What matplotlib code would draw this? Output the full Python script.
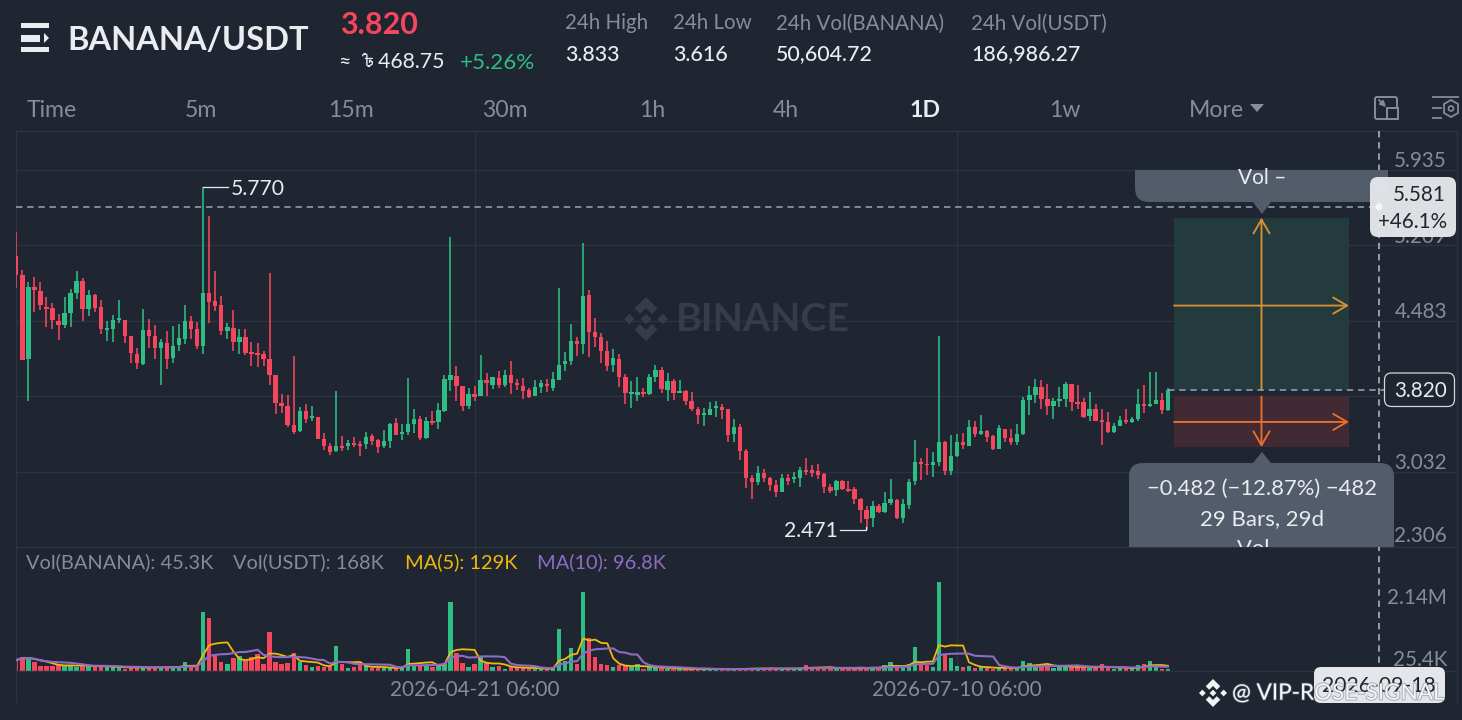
import matplotlib
matplotlib.use("Agg")
import matplotlib.pyplot as plt
import matplotlib.patheffects as pe
from matplotlib import font_manager as fm
from matplotlib.ft2font import FT2Font
from matplotlib.patches import FancyBboxPatch, Polygon, Rectangle
from matplotlib.transforms import ScaledTranslation
import numpy as np
import pandas as pd

opens = [5.107,4.921,4.119,4.809,4.770,4.620,4.607,4.479,4.447,4.559,
 4.748,4.867,4.597,4.729,4.620,4.395,4.408,4.488,4.488,4.337,
 4.167,4.068,4.398,4.337,4.219,4.270,4.129,4.248,4.309,4.479,
 4.402,4.241,4.748,4.671,4.639,4.389,4.418,4.280,4.328,4.180,
 4.171,4.161,4.119,3.959,3.689,3.661,3.478,3.426,3.619,3.548,
 3.561,3.349,3.282,3.227,3.282,3.279,3.311,3.298,3.298,3.372,
 3.333,3.279,3.330,3.500,3.391,3.417,3.491,3.539,3.353,3.520,
 3.510,3.613,3.914,3.953,3.860,3.667,3.779,3.760,3.911,3.866,
 3.930,3.866,3.962,3.882,3.860,3.821,3.760,3.850,3.872,3.840,
 3.917,4.068,4.097,4.289,4.261,4.729,4.379,4.328,4.190,4.059,
 4.119,3.940,3.779,3.770,3.799,3.779,3.943,4.010,3.818,3.901,
 3.789,3.808,3.715,3.635,3.577,3.581,3.641,3.654,3.635,3.391,
 3.462,3.234,2.968,2.932,3.019,2.974,2.904,2.839,2.974,2.961,
 2.967,3.047,3.047,3.035,3.009,2.884,2.855,2.942,2.865,2.868,
 2.768,2.662,2.582,2.701,2.640,2.730,2.759,2.585,2.714,2.938,
 3.124,3.105,3.092,3.128,3.320,3.041,3.179,3.314,3.282,3.461,
 3.397,3.420,3.375,3.253,3.442,3.355,3.314,3.391,3.721,3.772,
 3.846,3.731,3.660,3.711,3.731,3.878,3.705,3.702,3.567,3.634,
 3.529,3.513,3.413,3.471,3.529,3.506,3.535,3.679,3.663,3.683,3.721,3.625]
closes = [4.921,4.103,4.809,4.780,4.633,4.600,4.488,4.447,4.559,4.748,
 4.867,4.597,4.729,4.607,4.402,4.418,4.488,4.507,4.337,4.171,
 4.078,4.395,4.337,4.219,4.280,4.116,4.241,4.318,4.479,4.408,
 4.238,4.748,4.668,4.626,4.386,4.427,4.280,4.328,4.171,4.161,
 4.151,4.116,3.959,3.689,3.661,3.478,3.417,3.619,3.539,3.568,
 3.349,3.282,3.218,3.279,3.263,3.308,3.292,3.282,3.369,3.330,
 3.269,3.330,3.491,3.388,3.414,3.491,3.539,3.353,3.520,3.504,
 3.622,3.924,3.962,3.856,3.667,3.779,3.751,3.911,3.882,3.940,
 3.866,3.962,3.882,3.863,3.808,3.751,3.847,3.882,3.853,3.921,
 4.059,4.097,4.289,4.261,4.719,4.379,4.328,4.190,4.049,4.129,
 3.940,3.789,3.799,3.799,3.779,3.943,4.010,3.828,3.901,3.789,
 3.805,3.715,3.638,3.577,3.597,3.635,3.664,3.629,3.385,3.462,
 3.234,2.968,2.932,3.019,2.968,2.904,2.839,2.971,2.945,2.981,
 3.044,3.031,3.022,3.003,2.884,2.849,2.942,2.861,2.842,2.768,
 2.662,2.576,2.701,2.643,2.730,2.768,2.585,2.717,2.935,3.128,
 3.105,3.092,3.124,3.320,3.041,3.179,3.314,3.285,3.458,3.397,
 3.420,3.368,3.250,3.452,3.355,3.320,3.394,3.721,3.772,3.849,
 3.734,3.663,3.711,3.731,3.878,3.705,3.686,3.558,3.634,3.522,
 3.513,3.413,3.471,3.529,3.509,3.535,3.679,3.663,3.679,3.721,3.625,3.820]
highs = [5.338,4.973,4.857,4.908,4.860,4.710,4.652,4.549,4.710,4.787,
 4.960,4.899,4.777,4.738,4.681,4.479,4.540,4.681,4.488,4.337,
 4.222,4.597,4.501,4.440,4.309,4.389,4.430,4.450,4.639,4.530,
 4.469,5.770,5.489,4.960,4.719,4.459,4.588,4.408,4.402,4.280,
 4.267,4.190,4.940,3.959,3.779,3.770,4.148,3.651,3.680,3.661,
 3.561,3.401,3.308,3.808,3.372,3.340,3.362,3.330,3.410,3.391,
 3.343,3.433,3.500,3.548,3.491,3.930,3.632,3.571,3.561,3.613,
 3.690,3.962,5.287,4.049,3.860,3.840,3.860,4.152,3.978,3.940,
 3.998,4.010,4.100,3.921,3.930,3.837,3.911,3.911,3.921,3.988,
 4.796,4.180,4.450,4.328,5.229,4.777,4.508,4.366,4.289,4.209,
 4.161,3.969,3.901,3.940,3.840,3.969,4.062,4.039,3.978,3.921,
 3.914,3.815,3.799,3.654,3.645,3.706,3.709,3.683,3.635,3.536,
 3.491,3.247,2.997,3.086,3.058,2.981,2.952,3.006,3.010,3.029,
 3.076,3.163,3.092,3.102,3.022,2.913,2.951,2.951,2.945,2.881,
 2.778,2.704,2.752,2.720,2.839,2.958,2.765,2.765,2.964,3.333,
 3.160,3.262,3.217,4.337,3.326,3.381,3.391,3.400,3.529,3.516,
 3.574,3.429,3.384,3.484,3.442,3.442,3.487,3.747,3.856,3.920,
 3.910,3.875,3.744,3.843,3.894,3.878,3.865,3.744,3.798,3.683,
 3.638,3.606,3.503,3.564,3.634,3.557,3.830,3.869,3.991,3.991,3.792,3.840]
lows = [4.803,4.103,3.712,4.572,4.588,4.427,4.408,4.299,4.418,4.427,
 4.697,4.479,4.530,4.568,4.360,4.289,4.280,4.466,4.270,4.078,
 4.020,4.058,4.219,4.116,3.869,4.020,4.078,4.190,4.260,4.309,
 4.209,4.167,4.459,4.578,4.350,4.309,4.196,4.167,4.155,4.052,
 4.039,4.052,3.869,3.587,3.600,3.465,3.391,3.410,3.500,3.523,
 3.349,3.243,3.189,3.221,3.231,3.243,3.269,3.183,3.253,3.288,
 3.211,3.263,3.263,3.381,3.337,3.388,3.407,3.337,3.350,3.481,
 3.439,3.609,3.808,3.709,3.619,3.638,3.709,3.760,3.760,3.828,
 3.840,3.850,3.779,3.818,3.731,3.741,3.760,3.789,3.799,3.808,
 3.914,3.998,4.059,4.148,4.168,4.139,4.229,4.078,3.998,3.988,
 3.850,3.686,3.645,3.709,3.751,3.770,3.898,3.792,3.715,3.718,
 3.786,3.674,3.619,3.487,3.471,3.577,3.558,3.542,3.314,3.321,
 3.147,2.875,2.769,2.900,2.932,2.849,2.788,2.839,2.904,2.923,
 2.887,2.996,2.977,2.961,2.826,2.823,2.800,2.855,2.836,2.717,
 2.541,2.471,2.502,2.630,2.637,2.711,2.576,2.534,2.675,2.903,
 2.951,3.003,2.983,3.086,3.003,3.003,3.169,3.253,3.275,3.368,
 3.387,3.320,3.243,3.250,3.314,3.291,3.291,3.387,3.577,3.689,
 3.634,3.580,3.541,3.657,3.650,3.618,3.638,3.548,3.519,3.516,
 3.288,3.407,3.400,3.471,3.490,3.496,3.522,3.599,3.650,3.683,3.586,3.618]
volumes_k = [363,462,462,308,165,165,165,209,209,176,
 132,198,165,143,143,132,132,132,77,121,
 121,121,121,121,121,132,132,165,286,143,
 154,1925,1749,528,286,220,429,506,330,462,
 561,242,1287,308,220,253,594,308,198,132,
 154,143,143,825,231,110,132,198,154,88,
 99,110,110,110,110,715,176,187,209,143,
 198,275,2255,594,253,143,231,473,253,132,
 154,66,143,110,110,77,66,66,55,121,
 1386,341,759,242,2607,1078,473,220,187,132,
 187,165,143,220,66,143,121,99,77,77,
 55,66,77,66,66,55,55,55,66,66,
 66,99,88,77,88,77,77,77,77,77,
 77,187,121,99,110,110,77,88,88,77,
 132,99,143,110,187,286,110,110,220,781,
 209,209,143,2926,528,418,176,143,154,99,
 121,121,66,121,121,88,88,341,264,165,
 187,209,99,143,154,143,132,143,110,88,
 220,110,77,88,88,77,198,242,319,143,77,77]
price_ticks = [5.935, 5.209, 4.483, 3.758, 3.032, 2.306]
vol_ticks = [25.4, 2140]
vol_tick_labels = ["25.4K", "2.14M"]
date_ticks = [76, 156]
date_labels = ["2026-04-21 06:00", "2026-07-10 06:00"]
intervals = ["5m", "15m", "30m", "1h", "4h", "1D", "1w"]
last_price = 3.820
target_price = 5.581
profit_top, profit_mid, stop_top, stop_mid, stop_bottom = 5.476, 4.630, 3.755, 3.510, 3.268
tool_start, tool_end = 192, 221

W, H = 1462, 720
BG = "#1f2631"; GRID = "#2c333f"; GREEN = "#2ebd85"; RED = "#f6465d"
GREY = "#858d9a"; WHITE = "#eaecef"; TIP = "#535c6b"; YEL = "#f0b90b"; PUR = "#8f6cc4"
plt.rcParams["font.family"] = ["Lato", "DejaVu Sans"]
fig = plt.figure(figsize=(W/100, H/100), dpi=100, facecolor=BG)

def axes_px(l, t, r, b, **kw):
    return fig.add_axes([l/W, 1-b/H, (r-l)/W, (b-t)/H], **kw)

LEFT, RIGHT = 16, 1457
x0 = lambda px: (px-16.3)/6.03
ax = axes_px(LEFT, 131, RIGHT, 547, facecolor="none")
axv = axes_px(LEFT, 547, RIGHT, 671, facecolor="none", sharex=ax)
ov = fig.add_axes([0, 0, 1, 1], facecolor="none")
ov.set_xlim(0, W); ov.set_ylim(H, 0); ov.axis("off")

n = len(opens)
idx = np.arange(n)
o, c, hi, lo = map(np.array, (opens, closes, highs, lows))
up = c >= o
cols = np.where(up, GREEN, RED)

def lift(label, px):
    label.set_transform(label.get_transform() + ScaledTranslation(0, px/100, fig.dpi_scale_trans))

# price panel
ax.set_xlim(x0(LEFT), x0(RIGHT))
ax.set_ylim(5.935-(547-170)/103.9, 5.935+(170-131)/103.9)
ax.set_yticks(price_ticks)
ax.yaxis.tick_right()
ax.tick_params(axis="y", length=0, pad=-7.2, labelsize=14.9, labelcolor=GREY)
for t in ax.get_yticklabels():
    t.set_ha("right"); t.set_va("bottom")
    lift(t, -1.3)
lift(ax.get_yticklabels()[-1], 2.3)
ax.grid(axis="y", color=GRID, lw=1.0, zorder=0)
for s in ax.spines.values():
    s.set_color(GRID); s.set_linewidth(1.0)
ax.tick_params(axis="x", length=0, labelbottom=False)
for d in date_ticks:
    ax.axvline(d, color=GRID, lw=1.0, zorder=0)
ax.vlines(idx, lo, hi, colors=cols, lw=1.15, zorder=3)
ax.bar(idx, np.abs(c-o), bottom=np.minimum(o, c), width=0.72, color=cols, zorder=3)

# position tool
ax.add_patch(Rectangle((tool_start, last_price), tool_end-tool_start, profit_top-last_price, fc="#233b3d", ec="none", zorder=2))
ax.add_patch(Rectangle((tool_start, stop_bottom), tool_end-tool_start, stop_top-stop_bottom, fc="#412a33", ec="none", zorder=2))
mid = (tool_start+tool_end)/2
ORG = "#d99033"; ORG2 = "#ec6f2c"
arrow = "->,head_length=1.0,head_width=0.58"
def arr(a, b, col):
    ax.annotate("", xy=b, xytext=a, zorder=4,
                arrowprops=dict(arrowstyle=arrow, color=col, lw=1.35, shrinkA=0, shrinkB=0, mutation_scale=10))
arr((mid, last_price), (mid, profit_top), ORG)
arr((tool_start, profit_mid), (tool_end, profit_mid), ORG)
arr((mid, stop_top), (mid, stop_bottom), ORG2)
arr((tool_start, stop_mid), (tool_end, stop_mid), ORG2)
ax.hlines(target_price, x0(LEFT), x0(1378), colors="#9aa0aa", lw=1.15, linestyles=(0, (4, 3)), zorder=5)
ax.hlines(last_price, idx[-1], x0(1384), colors="#9aa0aa", lw=1.15, linestyles=(0, (4, 3)), zorder=5)

# volume panel
axv.set_ylim(0, 124*32.9)
axv.vlines(date_ticks, 0, 124*32.9, colors=GRID, lw=1.0, zorder=0)
axv.bar(idx, volumes_k, width=0.72, color=cols, zorder=2)
vol = pd.Series(volumes_k, dtype=float)
ma5 = vol.rolling(5, min_periods=1).mean()
ma10 = vol.rolling(10, min_periods=1).mean()
axv.plot(idx, ma5, color=YEL, lw=1.3, zorder=3)
axv.plot(idx, ma10, color=PUR, lw=1.5, zorder=4)
axv.set_yticks(vol_ticks, vol_tick_labels)
axv.yaxis.tick_right()
axv.tick_params(axis="y", length=0, pad=-7.2, labelsize=14.9, labelcolor=GREY)
for t in axv.get_yticklabels():
    t.set_ha("right"); t.set_va("bottom")
lift(axv.get_yticklabels()[1], -2)
axv.set_xticks(date_ticks, date_labels)
axv.tick_params(axis="x", length=0, pad=6.2, labelsize=14.9, labelcolor=GREY)
for sn, s in axv.spines.items():
    s.set_color(GRID); s.set_linewidth(1.0)
axv.spines["top"].set_visible(False)
ov.plot([15.5, 15.5], [671, 702], color=GRID, lw=1.0)
ov.plot([1457, 1457], [671, 702], color=GRID, lw=1.0)

def T(x, y, s, size=14, color=WHITE, ha="left", weight="normal", **kw):
    return ov.text(x, y+size*0.1, s, fontsize=size, color=color, ha=ha, va="center", fontweight=weight, **kw)

# look for a family that holds the taka sign
taka_family = None
for f in fm.fontManager.ttflist:
    try:
        if 0x09F3 in FT2Font(f.fname).get_charmap():
            taka_family = f.name
            break
    except Exception:
        pass

# header
for y0, y1, xa, xb in [(23, 28, 21, 49), (47, 52, 21, 49)]:
    ov.add_patch(Rectangle((xa, y0), xb-xa, y1-y0, fc=WHITE, ec="none"))
ov.add_patch(Rectangle((21, 34.5), 19, 7.5, fc=WHITE, ec="none"))
ov.add_patch(Polygon([(44, 33), (49, 38), (44, 43)], fc=WHITE, ec="none"))
T(67, 38, "BANANA/USDT", 23.5, WHITE, weight="bold")
T(340, 23, "3.820", 22, RED, weight="bold")
if taka_family:
    ov.text(339, 62.5, "≈ ৳468.75", fontsize=15.3, color=WHITE, va="center",
            family=["Lato", taka_family, "DejaVu Sans"])
else:
    T(340, 61, "≈", 14, WHITE)
    ov.plot([360, 363, 365, 365, 367, 370, 373, 373.5], [54, 51.5, 53, 65, 68.5, 69, 67, 64], color=WHITE, lw=1.5)
    ov.plot([359, 372], [59, 59], color=WHITE, lw=1.5)
    T(376, 61, "468.75", 16, WHITE)
T(460, 61, "+5.26%", 16.1, GREEN)
stats = [(565, "24h High", "3.833"), (673, "24h Low", "3.616"),
         (776, "24h Vol(BANANA)", "50,604.72"), (971, "24h Vol(USDT)", "186,986.27")]
for x, a, b in stats:
    T(x, 22, a, 14.8, GREY)
    T(x, 53, b, 15.4, WHITE, weight="medium")
T(27, 109, "Time", 16.6, GREY)
for x, s in zip([201, 351, 505, 652, 786, 925, 1065], intervals):
    if s == "1D":
        T(x, 109, s, 16.6, WHITE, ha="center", weight="bold")
    else:
        T(x, 109, s, 16.6, GREY, ha="center")
T(1189, 109, "More", 16.6, GREY)
ov.add_patch(Polygon([(1250, 104), (1264, 104), (1257, 112)], fc=GREY, ec="none"))
# toolbar icons
ov.add_patch(FancyBboxPatch((1375, 97), 22, 22, boxstyle="round,pad=0,rounding_size=2", fc="none", ec=GREY, lw=1.4))
ov.add_patch(Rectangle((1387, 108), 11, 11, fc=BG, ec=GREY, lw=1.4))
ov.annotate("", xy=(1386, 107), xytext=(1379, 100), arrowprops=dict(arrowstyle="-|>", color=GREY, lw=1.3, mutation_scale=8, shrinkA=0, shrinkB=0))
for y, xa, xb in [(97, 1433, 1458), (108, 1433, 1441), (118, 1433, 1441)]:
    ov.plot([xa, xb], [y, y], color=GREY, lw=1.3)
ov.add_patch(Polygon([(1451, 100), (1458, 104), (1458, 113), (1451, 117), (1444, 113), (1444, 104)], fc="none", ec=GREY, lw=1.3))
ov.add_patch(plt.Circle((1451, 108.5), 2.5, fc="none", ec=GREY, lw=1.2))

# legend row
T(26, 560.5, "Vol(BANANA): 45.3K", 14.4, GREY)
T(233, 560.5, "Vol(USDT): 168K", 14.4, GREY)
T(405, 560.5, "MA(5): 129K", 14.4, YEL)
T(537, 560.5, "MA(10): 96.8K", 14.4, PUR)

# logo
def logo(cx, cy, r, col, z=1, alpha=1):
    dm = lambda x, y, s: [(x, y-s), (x+s, y), (x, y+s), (x-s, y)]
    shapes = [dm(0, 0, .24), dm(-.76, 0, .24), dm(.76, 0, .24),
              [(0, -1), (.52, -.48), (.27, -.23), (0, -.5), (-.27, -.23), (-.52, -.48)],
              [(0, 1), (.52, .48), (.27, .23), (0, .5), (-.27, .23), (-.52, .48)]]
    for sh in shapes:
        ov.add_patch(Polygon([(cx+a*r, cy+b*r) for a, b in sh], fc=col, ec="none", zorder=z, alpha=alpha))
logo(646, 319, 22, "#363c48")
T(676, 317, "BINANCE", 28.4, "#363c48", weight="bold")

# extreme labels
ov.plot([203, 228], [187, 187], color=WHITE, lw=0.9)
T(231, 187, "5.770", 15.2, WHITE)
ov.plot([840, 866, 866], [530, 530, 527], color=WHITE, lw=0.9)
T(838, 529, "2.471", 15.2, WHITE, ha="right")

# crosshair
ov.plot([1379, 1379], [131, 670], color="#b4b8bf", lw=1.15, linestyle=(0, (4, 3)))

# tooltips
up_box = FancyBboxPatch((1135, 140), 253, 62, boxstyle="round,pad=0,rounding_size=14", fc=TIP, ec="none", zorder=6)
ov.add_patch(up_box)
up_box.set_clip_path(Rectangle((1100, 170), 320, 40, transform=ov.transData))
ov.add_patch(Polygon([(1253, 202), (1271, 202), (1262, 214)], fc=TIP, ec="none", zorder=6))
T(1262, 176, "Vol –", 15, WHITE, ha="center", zorder=7)
lo_box = FancyBboxPatch((1129, 463), 265, 120, boxstyle="round,pad=0,rounding_size=14", fc=TIP, ec="none", zorder=6)
ov.add_patch(lo_box)
clip = Rectangle((1100, 450), 320, 97, transform=ov.transData)
lo_box.set_clip_path(clip)
ov.add_patch(Polygon([(1253, 463), (1271, 463), (1262, 452)], fc=TIP, ec="none", zorder=6))
T(1262, 487, "−0.482 (−12.87%) −482", 15.8, WHITE, ha="center", zorder=7)
T(1262, 517, "29 Bars, 29d", 16, WHITE, ha="center", zorder=7)
t = T(1262, 547, "Vol –", 15.8, WHITE, ha="center", zorder=7)
t.set_clip_on(True)
t.set_clip_path(clip)

# value flags
ov.add_patch(FancyBboxPatch((1370, 177), 86, 60, boxstyle="round,pad=0,rounding_size=8", fc="#e4e6ea", ec="none", zorder=8, alpha=.97))
ov.add_patch(plt.Circle((1379, 206.8), 3.5, fc="#f4f5f6", ec="none", zorder=9))
T(1446, 194, "5.581", 14.9, "#1f2631", ha="right", zorder=9)
T(1447, 221, "+46.1%", 14.9, "#1f2631", ha="right", zorder=9)
ov.add_patch(FancyBboxPatch((1384.5, 373), 70, 33.5, boxstyle="round,pad=0,rounding_size=7", fc=BG, ec="#d5d8dd", lw=0.9, zorder=8))
T(1447, 389.5, "3.820", 14.9, WHITE, ha="right", zorder=9)
ov.add_patch(FancyBboxPatch((1314, 667), 131, 36, boxstyle="round,pad=0,rounding_size=7", fc="#e4e6ea", ec="none", zorder=8))
T(1379, 684, "2026-09-18", 15.2, "#1f2631", ha="center", zorder=9)

# watermark
logo(1213, 693, 14, "#f2f3f5", z=10)
wm = T(1232, 692, "@ VIP-ROSE-SIGNAL", 16.2, "#f4f5f6", zorder=10)
wm.set_path_effects([pe.withStroke(linewidth=1.3, foreground="#6d7480", alpha=.55)])

fig.savefig("out.png", dpi=100, facecolor=BG)
